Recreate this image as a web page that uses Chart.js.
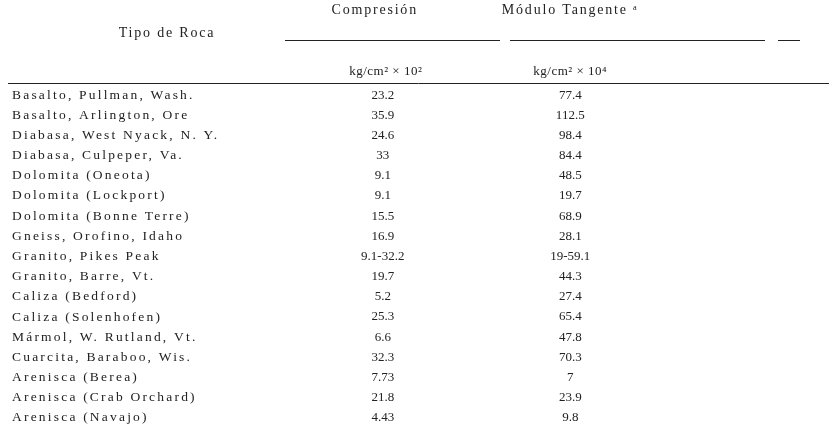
<!DOCTYPE html>
<html><head><meta charset="utf-8">
<script src="https://cdn.jsdelivr.net/npm/chart.js@4"></script>
<style>html,body{margin:0;padding:0;background:#fff}#w{width:829px;height:436px}</style>
</head><body><div id="w"><canvas id="c"></canvas></div>
<script>
const rocks=["Basalto, Pullman, Wash.","Basalto, Arlington, Ore","Diabasa, West Nyack, N. Y.","Diabasa, Culpeper, Va.","Dolomita (Oneota)","Dolomita (Lockport)","Dolomita (Bonne Terre)","Gneiss, Orofino, Idaho","Granito, Pikes Peak","Granito, Barre, Vt.","Caliza (Bedford)","Caliza (Solenhofen)","Mármol, W. Rutland, Vt.","Cuarcita, Baraboo, Wis.","Arenisca (Berea)","Arenisca (Crab Orchard)","Arenisca (Navajo)"];
const columns=["Compresión","Módulo Tangente"];
const compresion=["23.2","35.9","24.6","33","9.1","9.1","15.5","16.9","9.1-32.2","19.7","5.2","25.3","6.6","32.3","7.73","21.8","4.43"];
const modulo=["77.4","112.5","98.4","84.4","48.5","19.7","68.9","28.1","19-59.1","44.3","27.4","65.4","47.8","70.3","7","23.9","9.8"];
const headers=["Tipo de Roca","Compresión","Módulo Tangente ᵃ"];
const units=["kg/cm² × 10²","kg/cm² × 10⁴"];
const FAM='"Liberation Serif", "DejaVu Serif", serif';
const INK='#222';
const spacing={id:'sp',beforeDraw(ch){ch.ctx.letterSpacing='2.2px';}};
const textPlugin={id:'txt',afterDatasetsDraw(ch){
  const ctx=ch.ctx;ctx.save();ctx.fillStyle=INK;ctx.textAlign='center';ctx.textBaseline='middle';
  ctx.font='13px '+FAM;ctx.letterSpacing='0px';
  ch.data.datasets.forEach((ds,i)=>{const meta=ch.getDatasetMeta(i);
    meta.data.forEach((p,j)=>ctx.fillText(ds.text[j],p.x,p.y));});
  const xs=ch.scales.x;const c1=xs.getPixelForValue(0),c2=xs.getPixelForValue(1);
  ctx.font='14px '+FAM;ctx.letterSpacing='1.8px';
  ctx.fillText(headers[0],167,33);ctx.fillText(headers[1],c1-8,10);ctx.fillText(headers[2],c2,10);
  ctx.font='13px '+FAM;ctx.letterSpacing='0.5px';
  ctx.fillText(units[0],c1+3,72);ctx.fillText(units[1],c2,72);
  ctx.strokeStyle=INK;ctx.lineWidth=1;ctx.beginPath();
  ctx.moveTo(285,40.5);ctx.lineTo(500,40.5);ctx.moveTo(510,40.5);ctx.lineTo(765,40.5);ctx.moveTo(778,40.5);ctx.lineTo(800,40.5);
  ctx.moveTo(8,83.5);ctx.lineTo(829,83.5);ctx.stroke();ctx.restore();}};
new Chart(document.getElementById('c'),{type:'scatter',
 data:{datasets:[
  {data:rocks.map(r=>({x:columns[0],y:r})),text:compresion,pointRadius:0},
  {data:rocks.map(r=>({x:columns[1],y:r})),text:modulo,pointRadius:0}]},
 options:{responsive:true,maintainAspectRatio:false,animation:false,
  layout:{padding:{top:85,bottom:0,left:12,right:165}},
  plugins:{legend:{display:false},tooltip:{enabled:false}},
  scales:{
   x:{type:'category',labels:columns,offset:true,display:false},
   y:{type:'category',labels:rocks,offset:true,grid:{display:false},border:{display:false},
      afterFit(s){s.width=277;},
      ticks:{crossAlign:'far',padding:0,color:INK,font:{family:FAM,size:13.5}}}}},
 plugins:[spacing,textPlugin]});
</script></body></html>
